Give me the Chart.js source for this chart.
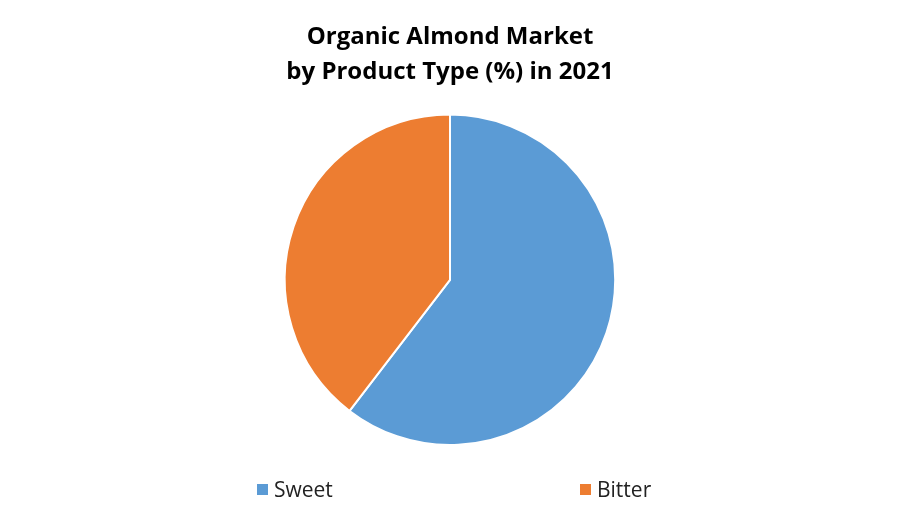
<!DOCTYPE html>
<html>
<head>
<meta charset="utf-8">
<script src="https://cdn.jsdelivr.net/npm/chart.js@4"></script>
<style>
  body { margin: 0; background: #fff; }
  #wrap { position: relative; width: 900px; height: 525px; }
  .legend { position: absolute; top: 475px; font: 21px "Open Sans", sans-serif; color: #222; display: flex; align-items: center; }
  .legend span.box { width: 11px; height: 11px; display: inline-block; margin-right: 6px; }
</style>
</head>
<body>
<div id="wrap">
  <canvas id="chart" width="900" height="525"></canvas>
  <div class="legend" style="left:257px"><span class="box" style="background:#5b9bd5"></span>Sweet</div>
  <div class="legend" style="left:580px"><span class="box" style="background:#ed7d31"></span>Bitter</div>
</div>
<script>
const labels = ['Sweet', 'Bitter'];
const shares = [60.4, 39.6];
const colors = ['#5b9bd5', '#ed7d31'];

new Chart(document.getElementById('chart'), {
    type: 'pie',
    data: {
        labels: labels,
        datasets: [{
            data: shares,
            backgroundColor: colors,
            borderColor: '#fff',
            borderWidth: 2,
        }]
    },
    options: {
        responsive: false,
        animation: false,
        layout: { padding: { top: 0, bottom: 79 } },
        plugins: {
            legend: { display: false },
            tooltip: { enabled: false },
            title: {
                display: true,
                text: ['Organic Almond Market', 'by Product Type (%) in 2021'],
                color: '#000',
                font: { family: 'Open Sans', size: 24, weight: 'bold', lineHeight: 1.45 },
                padding: { top: 20, bottom: 24 },
            },
        },
    }
});
</script>
</body>
</html>
